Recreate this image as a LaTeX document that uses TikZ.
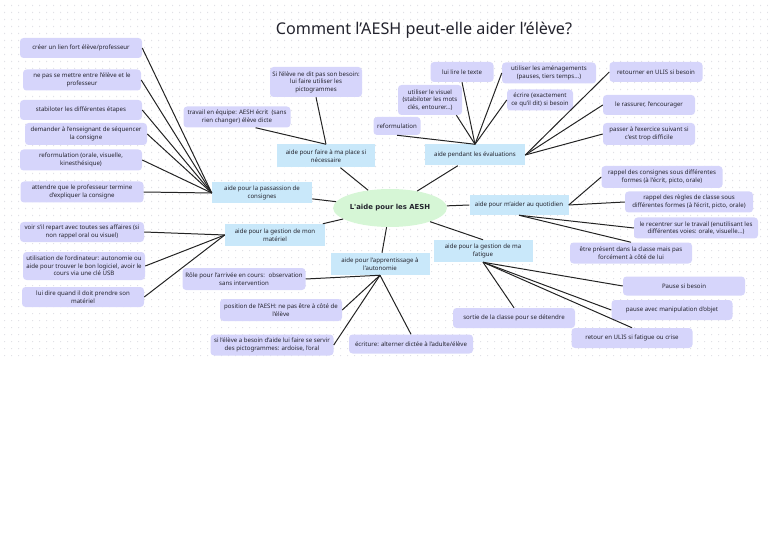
\documentclass[tikz,border=0pt]{standalone}
\usepackage{fontspec}
\setmainfont{Noto Sans}
\newfontfamily\hubfont{DejaVu Sans}
\usetikzlibrary{shapes.geometric}

\definecolor{leafc}{RGB}{214,213,251}
\definecolor{catc}{RGB}{201,232,250}
\definecolor{ovalc}{RGB}{214,246,214}
\definecolor{textc}{RGB}{35,35,45}
\definecolor{linec}{RGB}{35,35,35}
\definecolor{dotc}{RGB}{225,225,230}

\newcommand\smallfnt{\fontsize{5.2}{6.4}\selectfont}
\newcommand\titlefnt{\fontsize{13.8}{16}\selectfont}

\begin{document}
\begin{tikzpicture}[x=0.03cm, y=-0.03cm,
    every edge/.style={draw=linec, line width=0.85pt}]

      \tikzset{leaf/.style 2 args={fill=leafc, rounded corners=3pt, align=center, font=\smallfnt, text=textc, inner sep=1pt, minimum width=#1*0.03cm, minimum height=#2*0.03cm},
               cat/.style 2 args={fill=catc, align=center, font=\smallfnt, text=textc, inner sep=1pt, minimum width=#1*0.03cm, minimum height=#2*0.03cm},
               hub/.style={ellipse, fill=ovalc, inner sep=0pt, text=textc, font=\hubfont\bfseries\fontsize{5.9}{7}\selectfont, minimum width=100*0.03cm, minimum height=38*0.03cm}}

      \useasboundingbox (0,0) rectangle (768,543);
%% Dots
      \foreach \i in {0,...,109}{
        \fill[dotc] \foreach \j in {0,...,50}{(4+7*\i,5+7*\j) rectangle +(1.1,1.1)};
      }

%% Title and centre
      \node[font=\titlefnt, text=textc] (title) at (424,30) {Comment l'AESH peut-elle aider l'élève?};
      \node[hub] (aesh) at (390,208) {L'aide pour les AESH};

%% Branches
      \node[cat={98}{23}] (faire) at (326,156) {aide pour faire à ma place si\\nécessaire};
      \node[cat={100}{21}] (evals) at (475,155) {aide pendant les évaluations};
      \node[cat={100}{21}] (consignes) at (262,193) {aide pour la passassion de\\consignes};
      \node[cat={99}{20}] (quotidien) at (519,205) {aide pour m'aider au quotidien};
      \node[cat={100}{22}] (materiel) at (275,235) {aide pour la gestion de mon\\matériel};
      \node[cat={99}{22}] (autonomie) at (380,264) {aide pour l'apprentissage à\\l'autonomie};
      \node[cat={99}{22}] (fatigue) at (483,251) {aide pour la gestion de ma\\fatigue};

%% Leaves, left
      \node[leaf={122}{20}] (lien) at (81,48) {créer un lien fort élève/professeur};
      \node[leaf={118}{21}] (entre) at (82,80) {ne pas se mettre entre l'élève et le\\professeur};
      \node[leaf={122}{20}] (etapes) at (81,110) {stabiloter les différentes étapes};
      \node[leaf={122}{22}] (sequencer) at (86,134) {demander à l'enseignant de séquencer\\la consigne};
      \node[leaf={122}{21}] (reform) at (81,160) {reformulation (orale, visuelle,\\kinesthésique)};
      \node[leaf={123}{21}] (attendre) at (82,192) {attendre que le professeur termine\\d'expliquer la consigne};
      \node[leaf={124}{20}] (affaires) at (82,232) {voir s'il repart avec toutes ses affaires (si\\non rappel oral ou visuel)};
      \node[leaf={122}{28}] (ordi) at (84,266) {utilisation de l'ordinateur: autonomie ou\\aide pour trouver le bon logiciel, avoir le\\cours via une clé USB};
      \node[leaf={122}{20}] (prendre) at (83,297) {lui dire quand il doit prendre son\\matériel};

%% Leaves, top
      \node[leaf={92}{30}] (picto) at (316,82) {Si l'élève ne dit pas son besoin:\\lui faire utiliser les\\pictogrammes};
      \node[leaf={107}{21}] (equipe) at (237,117) {travail en équipe: AESH écrit \ (sans\\rien changer) élève dicte};
      \node[leaf={63}{20}] (lire) at (462,72) {lui lire le texte};
      \node[leaf={64}{30}] (visuel) at (430,100) {utiliser le visuel\\(stabiloter les mots\\clés, entourer...)};
      \node[leaf={94}{21}] (amenag) at (549,73) {utiliser les aménagements\\(pauses, tiers temps...)};
      \node[leaf={66}{21}] (ecrire) at (540,100) {écrire (exactement\\ce qu'il dit) si besoin};
      \node[leaf={47}{18}] (reformeval) at (397,126) {reformulation};
      \node[leaf={93}{20}] (ulis) at (656,72) {retourner en ULIS si besoin};
      \node[leaf={92}{20}] (rassurer) at (649,105) {le rassurer, l'encourager};
      \node[leaf={92}{22}] (passer) at (649,134) {passer à l'exercice suivant si\\c'est trop difficile};

%% Leaves, right
      \node[leaf={121}{22}] (rappelcons) at (662,177) {rappel des consignes sous différentes\\formes (à l'écrit, picto, orale)};
      \node[leaf={128}{21}] (regles) at (689,202) {rappel des règles de classe sous\\différentes formes (à l'écrit, picto, orale)};
      \node[leaf={124}{21}] (recentrer) at (696,228) {le recentrer sur le travail (enutilisant les\\différentes voies: orale, visuelle...)};
      \node[leaf={122}{21}] (present) at (631,253) {être présent dans la classe mais pas\\forcément à côté de lui};
      \node[leaf={122}{19}] (pause) at (684,286) {Pause si besoin};
      \node[leaf={121}{20}] (manip) at (672,310) {pause avec manipulation d'objet};
      \node[leaf={122}{20}] (sortie) at (514,318) {sortie de la classe pour se détendre};
      \node[leaf={121}{20}] (retour) at (632,338) {retour en ULIS si fatigue ou crise};

%% Leaves, bottom
      \node[leaf={123}{22}] (arrivee) at (244,279) {Rôle pour l'arrivée en cours: \ observation\\sans intervention};
      \node[leaf={122}{22}] (position) at (281,310) {position de l'AESH: ne pas être à côté de\\l'élève};
      \node[leaf={123}{21}] (ardoise) at (272,345) {si l'élève a besoin d'aide lui faire se servir\\des pictogrammes: ardoise, l'oral};
      \node[leaf={124}{19}] (ecriture) at (411,344) {écriture: alterner dictée à l'adulte/élève};

%Edges from the centre
      \path (aesh) edge (faire);
      \path (aesh) edge (evals);
      \path (aesh) edge (consignes);
      \path (aesh) edge (quotidien.west);
      \path (aesh) edge (materiel);
      \path (aesh) edge (autonomie);
      \path (aesh) edge (fatigue.north);

%Edges to the leaves
      \path (lien.east) edge (consignes.west);
      \path (entre.east) edge (consignes.west);
      \path (etapes.east) edge (consignes.west);
      \path (sequencer.east) edge (consignes.west);
      \path (reform.east) edge (consignes.west);
      \path (attendre.east) edge (consignes.west);
      \path (affaires.east) edge (materiel.west);
      \path (ordi.east) edge (materiel.west);
      \path (prendre.east) edge (materiel.west);
      \path (picto.south) edge (faire.north);
      \path (equipe.-30) edge (faire.north);
      \path (lire.south) edge (evals.north);
      \path (visuel.-30) edge (evals.north);
      \path (amenag.west) edge (evals.north);
      \path (ecrire.west) edge (evals.north);
      \path (reformeval.south) edge (evals.north);
      \path (evals.east) edge (ulis.west);
      \path (evals.east) edge (rassurer.west);
      \path (evals.east) edge (passer.west);
      \path (quotidien.east) edge (rappelcons.west);
      \path (quotidien.east) edge (regles.west);
      \path (quotidien.south) edge (recentrer.west);
      \path (quotidien.south) edge (present.north);
      \path (fatigue.south) edge (pause.west);
      \path (fatigue.south) edge (manip.west);
      \path (fatigue.south) edge (retour.north);
      \path (fatigue.south) edge (sortie.north);
      \path (autonomie.south) edge (arrivee.east);
      \path (autonomie.south) edge (position.east);
      \path (autonomie.south) edge (ardoise.east);
      \path (autonomie.south) edge (ecriture.north);

\end{tikzpicture}
\end{document}
